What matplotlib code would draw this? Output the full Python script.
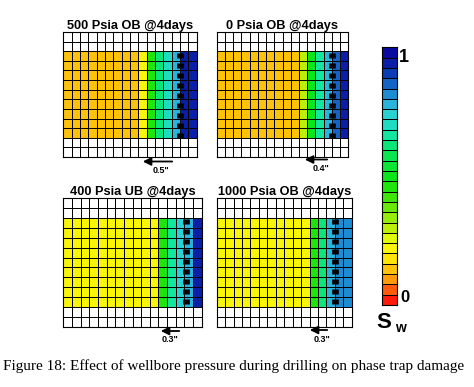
import numpy as np
import matplotlib
matplotlib.use("Agg")
import matplotlib.pyplot as plt
from matplotlib.colors import ListedColormap, BoundaryNorm

# ---------------- data ----------------
titles = ["500 Psia OB @4days", "0 Psia OB @4days",
          "400 Psia UB @4days", "1000 Psia OB @4days"]
depth_labels = ['0.5"', '0.4"', '0.3"', '0.3"']

# water saturation per grid column (16 columns, left = formation, right = wellbore)
sw_500_ob = [0.14, 0.14, 0.14, 0.14, 0.14, 0.14, 0.14, 0.14, 0.14,
             0.22, 0.46, 0.62, 0.70, 0.78, 0.94, 0.94]
sw_0_ob = [0.14, 0.14, 0.14, 0.14, 0.14, 0.14, 0.14, 0.14, 0.14, 0.14,
           0.30, 0.50, 0.66, 0.78, 0.86, 0.94]
sw_400_ub = [0.22, 0.22, 0.22, 0.22, 0.22, 0.22, 0.22, 0.22, 0.22, 0.22, 0.22,
             0.46, 0.66, 0.74, 0.78, 0.94]
sw_1000_ob = [0.22, 0.22, 0.22, 0.22, 0.22, 0.22, 0.22, 0.22, 0.22, 0.22, 0.22,
              0.46, 0.62, 0.78, 0.82, 0.82]
panels_sw = [sw_500_ob, sw_0_ob, sw_400_ub, sw_1000_ob]

# column boundary where the dotted damage front sits
front_col = [14, 14, 14.2, 14]

# grid rows: 2 empty rows, 9 simulated rows, 2 empty rows
n_empty_top = 2
n_active = 9
n_empty_bot = 2

# colour legend levels (bottom -> top), 0 .. 1
cbar_colors = ['#ff1a0a', '#ff5a0a', '#ff9a0a', '#ffc20a', '#ffe40a',
               '#f8f50a', '#e0f80a', '#bcf00a', '#96ec0a', '#6ae80a',
               '#3ee60a', '#1ee60a', '#0ae61a', '#0ae632', '#0ae650',
               '#0ae678', '#14e6a0', '#1edcc0', '#28d2d2', '#28b4dc',
               '#1e8cd2', '#1464c8', '#0a3cb4', '#0a1ea8', '#0a0aa0']

# ---------------- figure ----------------
W, H = 474, 387
fig = plt.figure(figsize=(W / 100, H / 100), dpi=100)
fig.patch.set_facecolor('white')

cmap = ListedColormap(cbar_colors)
cmap.set_bad('white')
levels = np.linspace(0, 1, len(cbar_colors) + 1)
norm = BoundaryNorm(levels, cmap.N)

def px_axes(x0, y0, x1, y1):
    return fig.add_axes([x0 / W, (H - y1) / H, (x1 - x0) / W, (y1 - y0) / H])

boxes = [(63.3, 32, 196.7, 157), (216.7, 32, 348.3, 157),
         (63.3, 198, 201.7, 327), (216.7, 198, 351.7, 327)]
# arrow (start x, end x, y) and label position, in pixels
arrows = [(175, 140, 161.5, 161, 170.5), (330, 302, 159.5, 321, 169),
          (182, 158, 331, 170, 340), (330, 307, 330, 322, 339)]

nrows = n_empty_top + n_active + n_empty_bot
for i, (sw, box) in enumerate(zip(panels_sw, boxes)):
    ax = px_axes(*box)
    ncols = len(sw)
    grid = np.full((nrows, ncols), np.nan)
    grid[n_empty_top:n_empty_top + n_active, :] = np.array(sw)[None, :]
    ax.pcolormesh(np.arange(ncols + 1), np.arange(nrows + 1), grid,
                  cmap=cmap, norm=norm, edgecolors='black', linewidth=0.72)
    ax.set_xlim(0, ncols)
    ax.set_ylim(nrows, 0)
    ax.set_xticks([])
    ax.set_yticks([])
    for s in ax.spines.values():
        s.set_linewidth(0.8)
    # dotted damage front
    ax.plot([front_col[i], front_col[i]], [n_empty_top + 0.15, n_empty_top + n_active],
            color='black', lw=4.8, ls=(0, (0.75, 0.75)), dash_capstyle='butt')
    ax.set_title(titles[i], fontsize=9.2, fontweight='bold',
                 family='Liberation Sans', pad=2)
    # penetration arrow + label
    xs, xe, ya, xl, yl = arrows[i]
    fig.add_artist(matplotlib.patches.FancyArrowPatch(
        (xs / W, 1 - ya / H), (xe / W, 1 - ya / H), transform=fig.transFigure,
        arrowstyle='-|>', mutation_scale=12, lw=1.3, color='black'))
    fig.text(xl / W, 1 - yl / H, depth_labels[i], ha='center', va='center',
             fontsize=6.5, fontweight='bold', family='Liberation Sans')

# ---------------- colour legend ----------------
cax = px_axes(381.7, 47.3, 396.7, 305)
n = len(cbar_colors)
vals = ((np.arange(n) + 0.5) / n)[:, None]
cax.pcolormesh([0, 1], levels, vals, cmap=cmap, norm=norm,
               edgecolors='black', linewidth=0.6)
cax.set_xlim(0, 1)
cax.set_ylim(0, 1)
cax.set_xticks([])
cax.set_yticks([])
for s in cax.spines.values():
    s.set_linewidth(0.8)

fig.text(399 / W, 1 - 57 / H, '1', fontsize=13, fontweight='bold',
         family='Liberation Sans', ha='left', va='center')
fig.text(400 / W, 1 - 298 / H, '0', fontsize=12, fontweight='bold',
         family='Liberation Sans', ha='left', va='center')
fig.text(376 / W, 1 - 328 / H, 'S', fontsize=16, fontweight='bold',
         family='Liberation Sans', ha='left', va='baseline')
fig.text(395 / W, 1 - 332 / H, 'w', fontsize=10, fontweight='bold',
         family='Liberation Sans', ha='left', va='baseline')

fig.text(234 / W, 1 - 366 / H,
         'Figure 18: Effect of wellbore pressure during drilling on phase trap damage',
         fontsize=11, family='Liberation Serif', ha='center', va='center')

fig.savefig('out.png', dpi=100, facecolor='white')
